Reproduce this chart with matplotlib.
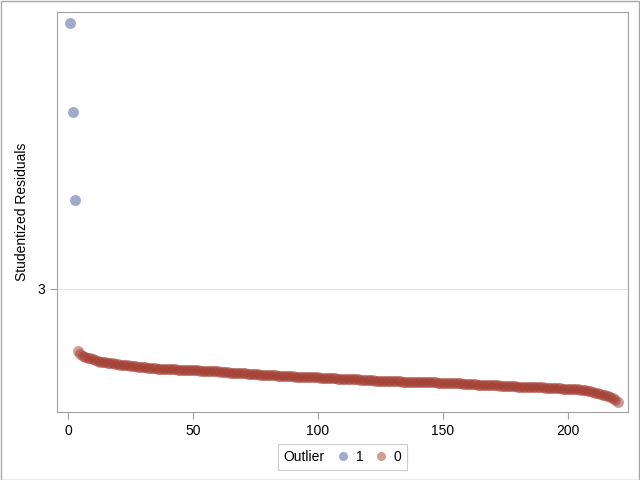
import matplotlib.pyplot as plt
import numpy as np
from matplotlib.lines import Line2D
from matplotlib.patches import Rectangle
from matplotlib.offsetbox import HPacker

plt.rcParams['font.family'] = ['Liberation Sans', 'DejaVu Sans']

# ------------------------------
# Data
# ------------------------------

outlier_obs = [1, 2, 3]
outlier_res = [12.26, 9.16, 6.10]

normal_obs = np.arange(4, 221)
normal_res = [
    0.84, 0.72, 0.66, 0.62, 0.59, 0.57, 0.55, 0.52, 0.49, 0.46,
    0.45, 0.44, 0.43, 0.41, 0.40, 0.38, 0.37, 0.36, 0.35, 0.34,
    0.33, 0.32, 0.31, 0.30, 0.28, 0.27, 0.26, 0.26, 0.25, 0.24,
    0.23, 0.23, 0.22, 0.21, 0.21, 0.20, 0.20, 0.19, 0.19, 0.19,
    0.18, 0.18, 0.18, 0.17, 0.17, 0.17, 0.17, 0.16, 0.16, 0.15,
    0.15, 0.14, 0.14, 0.13, 0.13, 0.12, 0.12, 0.11, 0.10, 0.10,
    0.09, 0.08, 0.07, 0.07, 0.06, 0.06, 0.05, 0.05, 0.04, 0.03,
    0.03, 0.02, 0.02, 0.01, 0.00, 0.00, -0.01, -0.01, -0.02, -0.02,
    -0.03, -0.03, -0.03, -0.04, -0.04, -0.05, -0.05, -0.06, -0.06, -0.06,
    -0.07, -0.07, -0.08, -0.08, -0.08, -0.09, -0.09, -0.10, -0.10, -0.10,
    -0.11, -0.11, -0.12, -0.12, -0.13, -0.13, -0.14, -0.14, -0.15, -0.15,
    -0.15, -0.16, -0.16, -0.17, -0.17, -0.18, -0.18, -0.19, -0.19, -0.20,
    -0.20, -0.21, -0.21, -0.21, -0.22, -0.22, -0.23, -0.23, -0.23, -0.23,
    -0.24, -0.24, -0.24, -0.24, -0.24, -0.24, -0.25, -0.25, -0.25, -0.25,
    -0.25, -0.26, -0.26, -0.26, -0.27, -0.27, -0.27, -0.28, -0.28, -0.28,
    -0.29, -0.29, -0.30, -0.30, -0.31, -0.31, -0.32, -0.32, -0.33, -0.33,
    -0.34, -0.34, -0.34, -0.35, -0.35, -0.36, -0.36, -0.37, -0.37, -0.38,
    -0.38, -0.38, -0.39, -0.39, -0.40, -0.40, -0.41, -0.41, -0.42, -0.42,
    -0.42, -0.43, -0.43, -0.43, -0.44, -0.44, -0.44, -0.45, -0.45, -0.46,
    -0.46, -0.46, -0.47, -0.47, -0.48, -0.48, -0.49, -0.49, -0.50, -0.50,
    -0.51, -0.52, -0.53, -0.54, -0.56, -0.58, -0.60, -0.62, -0.64, -0.66,
    -0.69, -0.72, -0.75, -0.78, -0.82, -0.87, -0.93,
]

legend_title = "Outlier"
legend_labels = ["1", "0"]

blue = "#445694"
red = "#A23A2E"
axis_gray = "#a0a0a0"

# ------------------------------
# Plot
# ------------------------------

fig = plt.figure(figsize=(6.4, 4.8), dpi=100)
ax = fig.add_axes([0.089, 0.142, 0.892, 0.833])

ax.axhline(3, color="#e4e4e4", linewidth=0.8, zorder=0)

ax.scatter(normal_obs, normal_res, s=62, color=red, alpha=0.5,
           linewidths=0, zorder=2)
ax.scatter(outlier_obs, outlier_res, s=62, color=blue, alpha=0.5,
           linewidths=0, zorder=3)

ax.set_xlim(-4.4, 224)
ax.set_ylim(-1.29, 12.65)
ax.set_xticks([0, 50, 100, 150, 200])
ax.set_yticks([3])

for sp in ax.spines.values():
    sp.set_color(axis_gray)
ax.tick_params(colors=axis_gray, labelcolor="black", labelsize=10,
               length=5, direction="out")

ax.set_ylabel("Studentized Residuals", fontsize=10, labelpad=6)

# legend: title inline, to the left of the markers
handles = [
    Line2D([], [], marker="o", linestyle="none", markersize=6.5,
           markerfacecolor=blue, markeredgewidth=0, alpha=0.5),
    Line2D([], [], marker="o", linestyle="none", markersize=6.5,
           markerfacecolor=red, markeredgewidth=0, alpha=0.5),
]
leg = fig.legend(handles, legend_labels, title=legend_title, loc="center",
                 bbox_to_anchor=(0.535, 0.0475), ncol=2, frameon=True,
                 fontsize=10, title_fontsize=10, handlelength=1.0,
                 handletextpad=0.4, columnspacing=0.8, borderpad=0.3,
                 fancybox=False, edgecolor="#c0c0c0")
leg.get_frame().set_linewidth(0.8)
fs = 10 * fig.dpi / 72
leg._legend_box = HPacker(pad=0.3 * fs, sep=0.6 * fs, align="center",
                          children=[leg._legend_title_box, leg._legend_handle_box])
leg._legend_box.set_figure(fig)
leg._legend_box.set_offset(leg._findoffset)

# outer figure border
fig.patches.append(Rectangle((0.001, 0.001), 0.997, 0.997, transform=fig.transFigure,
                             fill=False, edgecolor="#a8a8a8", linewidth=1.0))

plt.savefig("out.png", dpi=100)
